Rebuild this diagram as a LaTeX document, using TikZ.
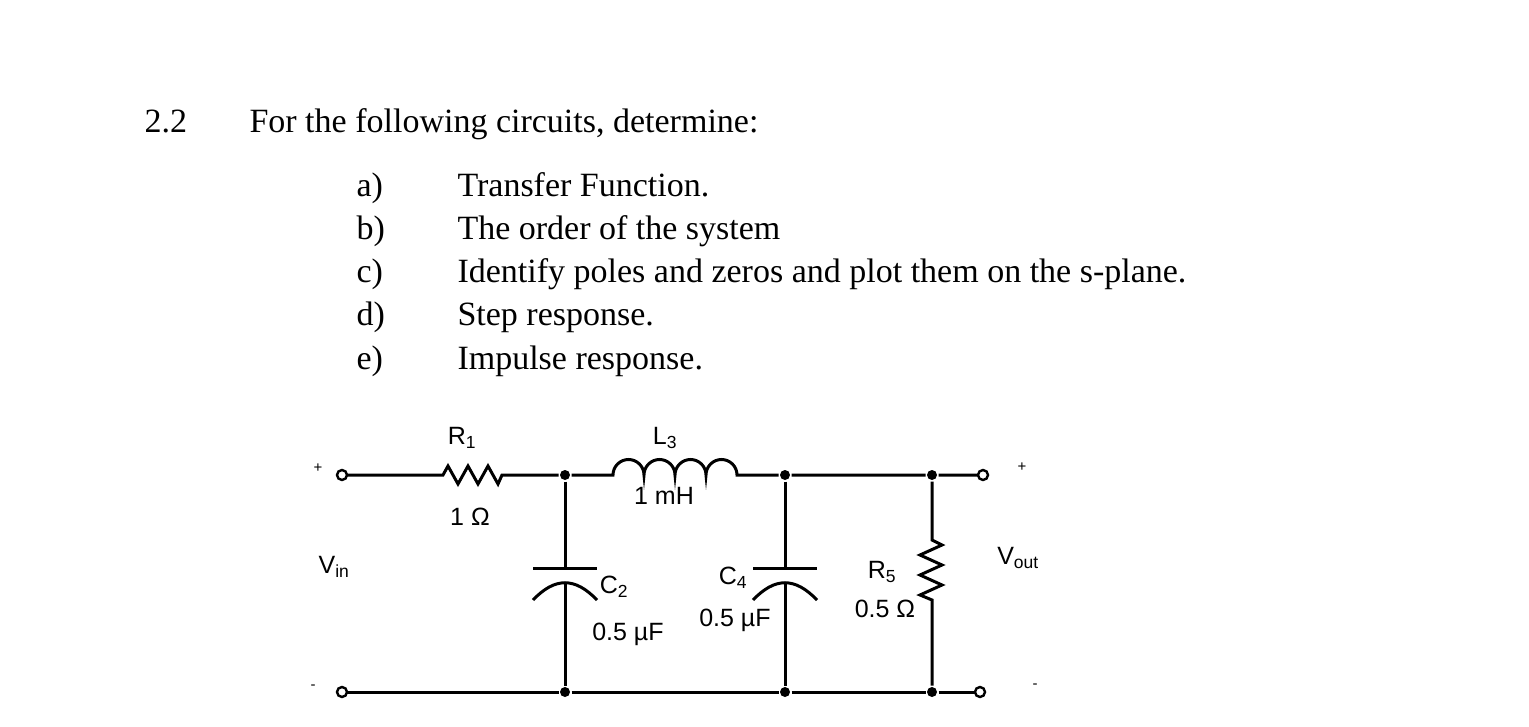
\documentclass[tikz,border=0pt]{standalone}
\usepackage{fontspec}
\setmainfont{Liberation Serif}
\newfontfamily\arialf{Liberation Sans}
\begin{document}
\begin{tikzpicture}[x=1pt,y=-1pt,line width=3pt,
  txt/.style={anchor=base west,inner sep=0,font=\fontsize{34}{39}\selectfont},
  lab/.style={inner sep=0,font=\arialf\fontsize{25}{29}\selectfont},
  dot/.style={circle,fill,inner sep=0,minimum size=10pt},
  term/.style={circle,draw,fill=white,line width=2.4pt,inner sep=0,minimum size=10pt}]
\useasboundingbox (0,0) rectangle (1529,727);
\node[txt] (n) at (143,133) {2.2};
\node[txt] (h) at (248,133) {For the following circuits, determine:};
\foreach \l/\t/\y in {a)/Transfer Function./197, b)/The order of the system/240, c)/Identify poles and zeros and plot them on the s-plane./283, d)/Step response./326, e)/Impulse response./369}{
  \node[txt] at (355,\y) {\l};
  \node[txt] at (456,\y) {\t};
}
% nodes
\coordinate (tl) at (342,475);
\coordinate (bl) at (342,692);
\node[dot] (n1) at (565,475) {};
\node[dot] (n2) at (785,475) {};
\node[dot] (n3) at (932,475) {};
\node[dot] (m1) at (565,692) {};
\node[dot] (m2) at (785,692) {};
\node[dot] (m3) at (932,692) {};
\coordinate (tr) at (983,475);
\coordinate (br) at (980,692);
% top wire with R1 and L3
\draw (tl) -- (443,475) -- (448,466) -- (458,484) -- (468,466) -- (478,484) -- (488,466) -- (498,484) -- (502,475) -- (n1) -- (613,475)
  arc[start angle=180,end angle=360,radius=15.5] arc[start angle=180,end angle=360,radius=15.5]
  arc[start angle=180,end angle=360,radius=15.5] arc[start angle=180,end angle=360,radius=15.5] -- (n2) -- (n3) -- (tr);
\draw (bl) -- (m1) -- (m2) -- (m3) -- (br);
% C2
\draw (n1) -- (565,568); \draw (533,568) -- (597,568);
\draw (533,600) .. controls (555,577) and (575,577) .. (597,600);
\draw (565,583) -- (m1);
% C4
\draw (n2) -- (785,568); \draw (753,568) -- (817,568);
\draw (753,600) .. controls (775,577) and (795,577) .. (817,600);
\draw (785,583) -- (m2);
% R5
\draw (n3) -- (932,540) -- (942,545) -- (920,555) -- (942,565) -- (920,575) -- (942,585) -- (920,595) -- (932,600) -- (m3);
\node[term] at (tl) {}; \node[term] at (bl) {};
\node[term] at (tr) {}; \node[term] at (br) {};
% labels
\node[lab] at (462,438) {R\textsubscript{1}};
\node[lab] at (470,517) {1 Ω};
\node[lab] at (665,438) {L\textsubscript{3}};
\node[lab] at (664,496) {1 mH};
\node[lab] at (614,587) {C\textsubscript{2}};
\node[lab] at (628,634) {0.5 µF};
\node[lab] at (733,578) {C\textsubscript{4}};
\node[lab] at (735,620) {0.5 µF};
\node[lab] at (882,572) {R\textsubscript{5}};
\node[lab] at (885,609) {0.5 Ω};
\node[lab] at (334,567) {V\textsubscript{in}};
\node[lab] at (1018,558) {V\textsubscript{out}};
\node[lab,font=\arialf\fontsize{15}{17}\selectfont] at (318,468) {+};
\node[lab,font=\arialf\fontsize{15}{17}\selectfont] at (1022,467) {+};
\node[lab,font=\arialf\fontsize{15}{17}\selectfont] at (313,687) {-};
\node[lab,font=\arialf\fontsize{15}{17}\selectfont] at (1035,686) {-};
\end{tikzpicture}
\end{document}
